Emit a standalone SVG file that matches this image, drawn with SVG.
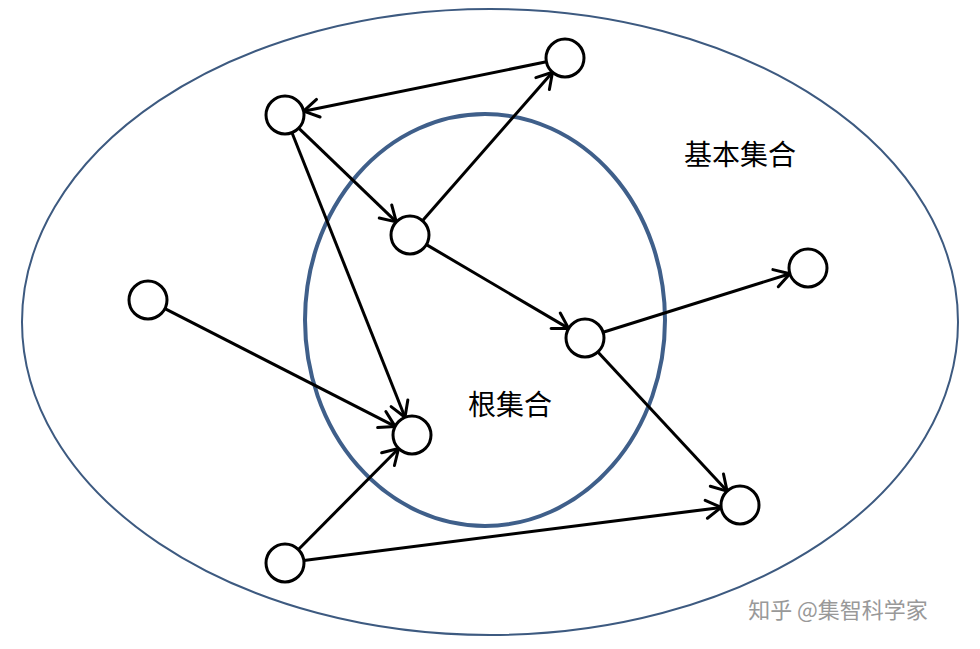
<svg xmlns="http://www.w3.org/2000/svg" width="980" height="649" viewBox="0 0 980 649">
<style>
.node{fill:#fff;stroke:#000;stroke-width:3}
.e{stroke:#000;stroke-width:3;fill:none;marker-end:url(#arr)}
.lbl{font-family:"Noto Sans CJK SC",sans-serif;font-size:28px;fill:#000}
</style>
<defs>
<marker id="arr" markerUnits="userSpaceOnUse" viewBox="-18 -12 22 24" refX="0" refY="0" markerWidth="22" markerHeight="24" orient="auto">
<path d="M-15,-9 L0,0 L-15,9" fill="none" stroke="#000" stroke-width="3" stroke-linecap="round" stroke-linejoin="round"/>
</marker>
</defs>
<rect width="980" height="649" fill="#fff"/>
<g id="outer"><ellipse cx="490" cy="322" rx="468" ry="313" fill="none" stroke="#3d5a80" stroke-width="2"/>
<text class="lbl" x="740" y="165" text-anchor="middle">基本集合</text></g>
<g id="inner"><ellipse cx="485" cy="320" rx="180" ry="206" fill="none" stroke="#3f5f8a" stroke-width="4"/>
<text class="lbl" x="510" y="415" text-anchor="middle">根集合</text></g>
<g id="edges">
<line class="e" x1="546.4" y1="61.8" x2="303.6" y2="111.2"/>
<line class="e" x1="298.7" y1="128.1" x2="396.3" y2="221.9"/>
<line class="e" x1="292" y1="132.7" x2="405" y2="417.3"/>
<line class="e" x1="422.5" y1="220.7" x2="552.5" y2="72.3"/>
<line class="e" x1="426.4" y1="244.6" x2="568.6" y2="328.4"/>
<line class="e" x1="164.9" y1="308.6" x2="395.1" y2="426.4"/>
<line class="e" x1="603.1" y1="332.3" x2="789.9" y2="273.7"/>
<line class="e" x1="597.9" y1="351.9" x2="727.1" y2="491.1"/>
<line class="e" x1="298.4" y1="549.5" x2="398.6" y2="448.5"/>
<line class="e" x1="303.8" y1="560.6" x2="721.2" y2="507.4"/>
</g>
<g id="nA"><circle class="node" cx="285" cy="115" r="19"/></g>
<g id="nB"><circle class="node" cx="565" cy="58" r="19"/></g>
<g id="nC"><circle class="node" cx="410" cy="235" r="19"/></g>
<g id="nD"><circle class="node" cx="148" cy="300" r="19"/></g>
<g id="nE"><circle class="node" cx="808" cy="268" r="19"/></g>
<g id="nF"><circle class="node" cx="585" cy="338" r="19"/></g>
<g id="nG"><circle class="node" cx="412" cy="435" r="19"/></g>
<g id="nH"><circle class="node" cx="740" cy="505" r="19"/></g>
<g id="nI"><circle class="node" cx="285" cy="563" r="19"/></g>
<g id="wm"><text x="838" y="618" text-anchor="middle" font-family="Noto Sans CJK SC,sans-serif" font-size="22" fill="#999">知乎 @集智科学家</text></g>
</svg>
